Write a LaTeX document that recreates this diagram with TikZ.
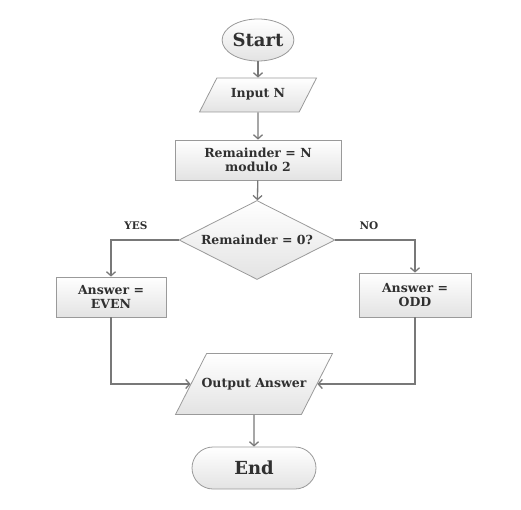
\documentclass[tikz,border=0pt]{standalone}
\usepackage{fontspec}
\setmainfont{DejaVu Serif}
\usetikzlibrary{shapes.geometric,arrows.meta}
\definecolor{edgegray}{HTML}{9A9A9A}
\definecolor{linegray}{HTML}{787878}
\definecolor{txtgray}{HTML}{303030}
\tikzset{
  boxtext/.style={text=txtgray,font=\bfseries\fontsize{12.5}{14}\selectfont,align=center},
  boxfill/.style={boxtext,draw=edgegray,line width=0.8pt,top color=white,bottom color=black!11},
  term/.style={boxfill,ellipse,inner sep=0pt,font=\bfseries\fontsize{18}{20}\selectfont},
  iobox/.style={boxfill,trapezium,trapezium left angle=63,trapezium right angle=117,text height=9pt,text depth=3pt},
  procbox/.style={boxfill,rectangle,inner sep=0pt},
  decbox/.style={boxfill,diamond,inner sep=0pt,aspect=2},
  flow/.style={-{Straight Barb[length=4pt,width=9pt]},draw=linegray,line width=1.3pt},
  branch/.style={text=txtgray,font=\bfseries\fontsize{10.5}{12}\selectfont}
}
\begin{document}
\begin{tikzpicture}[x=1pt,y=-1pt]
  \useasboundingbox (0,0) rectangle (521,510);
  % nodes
  \node[term,minimum width=68pt,minimum height=42pt] (start) at (258,40) {Start};
  \node[iobox,inner xsep=14pt,inner ysep=11pt] (input) at (258,95) {Input N};
  \node[procbox,minimum width=166pt,minimum height=40pt] (rem) at (258,160) {Remainder = N\\modulo 2};
  \node[decbox,minimum width=156pt,minimum height=79pt,
        label={[boxtext]center:Remainder = 0?}] (test) at (257,240) {};
  \node[procbox,minimum width=110pt,minimum height=40pt] (even) at (111,297) {Answer =\\EVEN};
  \node[procbox,minimum width=112pt,minimum height=44pt] (odd) at (415,295) {Answer =\\ODD};
  \node[iobox,inner xsep=-5pt,inner ysep=24.5pt] (out) at (254,384) {Output Answer};
  \node[procbox,rounded corners=21pt,minimum width=124pt,minimum height=42pt,font=\bfseries\fontsize{18}{20}\selectfont] (end) at (254,468) {End};
  % connectors
  \draw[flow] (start) -- (input);
  \draw[flow] (input) -- (rem);
  \draw[flow] (rem) -- (test);
  \draw[flow] (test.west) -| (even.north);
  \draw[flow] (test.east) -| (odd.north);
  \draw[flow] (even.south) |- (out.west);
  \draw[flow] (odd.south) |- (out.east);
  \draw[flow] (out.south) -- (end.north);
  \node[branch] (yes) at (136,226) {YES};
  \node[branch] (no) at (369,226) {NO};
\end{tikzpicture}
\end{document}
